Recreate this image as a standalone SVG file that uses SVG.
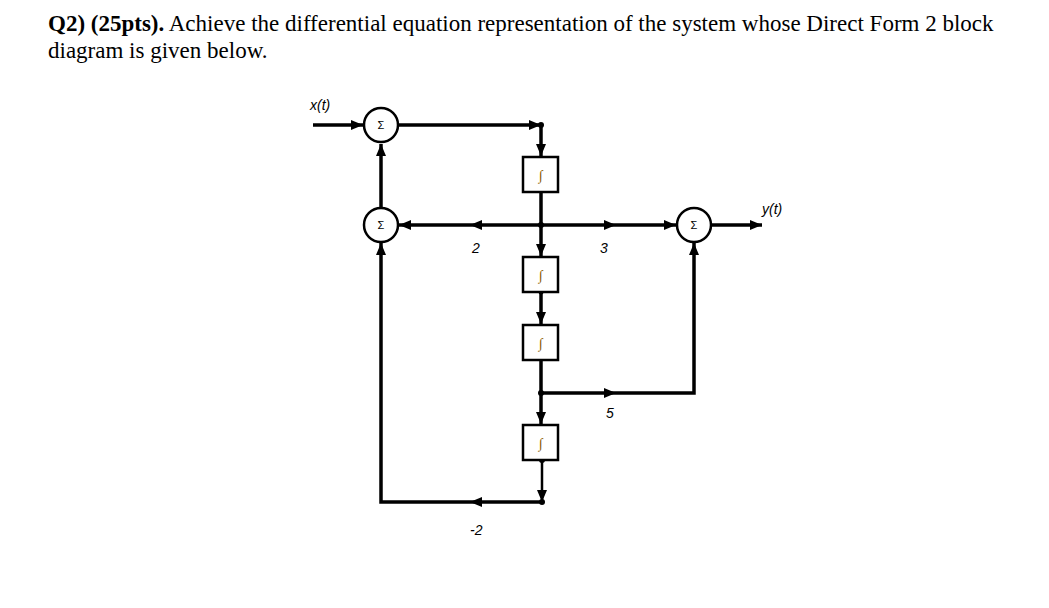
<svg xmlns="http://www.w3.org/2000/svg" width="1049" height="608" viewBox="0 0 1049 608">
<style>
.t{font-family:"Liberation Serif",serif;font-size:23px;fill:#000}
.l{font-family:"Liberation Sans",sans-serif;font-size:14px;font-style:italic;fill:#000}
.w{stroke:#000;stroke-width:3.5;fill:none}
.c{fill:#fff;stroke:#000;stroke-width:2.5}
.s{font-family:"Liberation Sans",sans-serif;font-size:11px;text-anchor:middle;fill:#000}
.i{font-family:"Liberation Serif",serif;font-size:14px;text-anchor:middle;fill:#8b5a00}
</style>
<defs>
<marker id="b" viewBox="0 0 12 10" refX="12" refY="5" markerWidth="12" markerHeight="10" markerUnits="userSpaceOnUse" orient="auto"><path d="M0,0 L12,5 L0,10 z" fill="#000"/></marker>
</defs>
<text class="t" x="48" y="31"><tspan font-weight="bold">Q2) (25pts).</tspan> Achieve the differential equation representation of the system whose Direct Form 2 block</text>
<text class="t" x="48" y="58">diagram is given below.</text>
<g id="connectors" class="w">
<path d="M313,125 H363" marker-end="url(#b)"/>
<path d="M398,125 H541" marker-end="url(#b)"/>
<path d="M541,125 V156" marker-end="url(#b)"/>
<path d="M541,192 V256" marker-end="url(#b)"/>
<path d="M541,225 H470" marker-end="url(#b)"/>
<path d="M470,225 H399" marker-end="url(#b)"/>
<path d="M541,225 H616" marker-end="url(#b)"/>
<path d="M616,225 H676" marker-end="url(#b)"/>
<path d="M711,225 H762" marker-end="url(#b)"/>
<path d="M381,208 V144" marker-end="url(#b)"/>
<path d="M541,292 V324" marker-end="url(#b)"/>
<path d="M541,360 V424" marker-end="url(#b)"/>
<path d="M541,393 H616" marker-end="url(#b)"/>
<path d="M616,393 H694 V243" marker-end="url(#b)"/>
<path d="M542,460 V502" marker-end="url(#b)" stroke-width="2.5"/>
<path d="M542,502 H470" marker-end="url(#b)"/>
<path d="M470,502 H381 V243" marker-end="url(#b)"/>
<g fill="#000" stroke="none">
<circle cx="541" cy="125" r="3"/><circle cx="541" cy="225" r="3"/><circle cx="541" cy="393" r="3"/><circle cx="542" cy="460" r="3"/><circle cx="542" cy="502" r="3"/><circle cx="541" cy="292" r="2.5"/>
</g>
</g>
<g id="sum1"><circle class="c" cx="381" cy="125" r="17"/><text class="s" x="381" y="129">Σ</text></g>
<g id="sum2"><circle class="c" cx="381" cy="225" r="17"/><text class="s" x="381" y="229">Σ</text></g>
<g id="sum3"><circle class="c" cx="694" cy="225" r="17"/><text class="s" x="694" y="229">Σ</text></g>
<g id="int1"><rect class="c" x="523" y="157" width="35" height="35"/><text class="i" x="541" y="180">∫</text></g>
<g id="int2"><rect class="c" x="523" y="257" width="35" height="35"/><text class="i" x="541" y="280">∫</text></g>
<g id="int3"><rect class="c" x="523" y="325" width="35" height="35"/><text class="i" x="541" y="348">∫</text></g>
<g id="int4"><rect class="c" x="523" y="425" width="35" height="35"/><text class="i" x="541" y="448">∫</text></g>
<text class="l" x="310" y="110">x(t)</text>
<text class="l" x="762" y="214">y(t)</text>
<text class="l" x="472" y="253">2</text>
<text class="l" x="600" y="253">3</text>
<text class="l" x="606" y="418">5</text>
<text class="l" x="470" y="535">-2</text>
</svg>
